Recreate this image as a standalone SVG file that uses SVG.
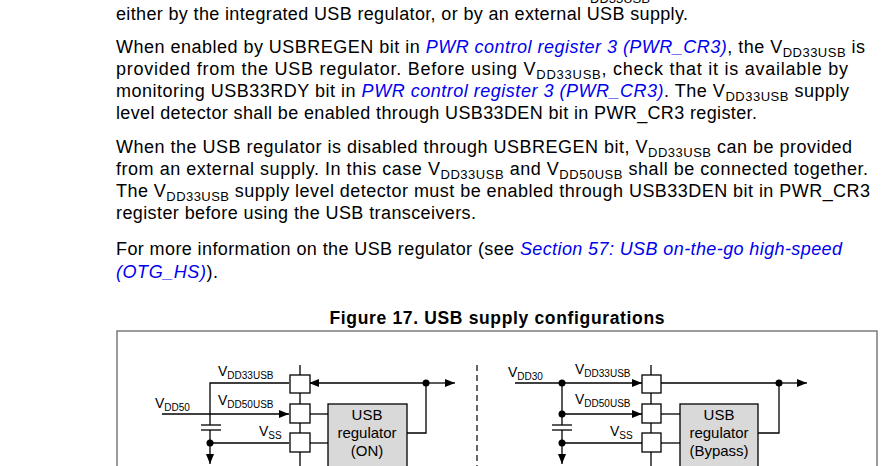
<svg xmlns="http://www.w3.org/2000/svg" width="888" height="466" viewBox="0 0 888 466">
<style>
text{font-family:"Liberation Sans",Arial,sans-serif;fill:#000}
.p{font-size:18px}
.l{fill:#0000ee;font-style:italic}
.s{font-size:13px}
.d{font-size:14px}
.w{stroke:#000;stroke-width:1.3;fill:none}
.b{fill:#fff;stroke:#000;stroke-width:1.3}
.r{fill:#d9d9d9;stroke:#000;stroke-width:1.3}
.c{font-size:15px;text-anchor:middle}
</style>
<defs>
<marker id="a" markerWidth="10" markerHeight="8" refX="10" refY="4" orient="auto" markerUnits="userSpaceOnUse"><path d="M0,0L10,4L0,8z" fill="#000"/></marker>
</defs>
<rect width="888" height="466" fill="#fff"/>
<g id="body">
<text class="s" x="590" y="3">DD33USB</text>
<text class="p" x="116" y="20" textLength="572" lengthAdjust="spacing">either by the integrated USB regulator, or by an external USB supply.</text>
<text class="p" x="116" y="53" textLength="749" lengthAdjust="spacing">When enabled by USBREGEN bit in <tspan class="l">PWR control register 3 (PWR_CR3)</tspan>, the V<tspan class="s" dy="4">DD33USB</tspan><tspan dy="-4"> is</tspan></text>
<text class="p" x="116" y="75" textLength="732" lengthAdjust="spacing">provided from the USB regulator. Before using V<tspan class="s" dy="4">DD33USB</tspan><tspan dy="-4">, check that it is available by</tspan></text>
<text class="p" x="116" y="97" textLength="733" lengthAdjust="spacing">monitoring USB33RDY bit in <tspan class="l">PWR control register 3 (PWR_CR3)</tspan>. The V<tspan class="s" dy="4">DD33USB</tspan><tspan dy="-4"> supply</tspan></text>
<text class="p" x="116" y="119" textLength="641" lengthAdjust="spacing">level detector shall be enabled through USB33DEN bit in PWR_CR3 register.</text>
<text class="p" x="116" y="153" textLength="736" lengthAdjust="spacing">When the USB regulator is disabled through USBREGEN bit, V<tspan class="s" dy="4">DD33USB</tspan><tspan dy="-4"> can be provided</tspan></text>
<text class="p" x="116" y="175" textLength="752" lengthAdjust="spacing">from an external supply. In this case V<tspan class="s" dy="4">DD33USB</tspan><tspan dy="-4"> and V</tspan><tspan class="s" dy="4">DD50USB</tspan><tspan dy="-4"> shall be connected together.</tspan></text>
<text class="p" x="116" y="197" textLength="754" lengthAdjust="spacing">The V<tspan class="s" dy="4">DD33USB</tspan><tspan dy="-4"> supply level detector must be enabled through USB33DEN bit in PWR_CR3</tspan></text>
<text class="p" x="116" y="219" textLength="360" lengthAdjust="spacing">register before using the USB transceivers.</text>
<text class="p" x="116" y="255" textLength="726" lengthAdjust="spacing">For more information on the USB regulator (see <tspan class="l">Section 57: USB on-the-go high-speed</tspan></text>
<text class="p" x="116" y="278" textLength="102" lengthAdjust="spacing"><tspan class="l">(OTG_HS)</tspan>).</text>
<text x="497" y="324" text-anchor="middle" font-weight="bold" font-size="17.5" textLength="335" lengthAdjust="spacing">Figure 17. USB supply configurations</text>
</g>
<rect x="117" y="331" width="760" height="140" fill="none" stroke="#666" stroke-width="1.3"/>
<g id="connectors">
<line class="w" x1="300" y1="365" x2="300" y2="466"/>
<line class="w" x1="651" y1="365" x2="651" y2="466"/>
<path class="w" d="M289,383H210V425M210,430V443M210,443V464" marker-end="url(#a)"/>
<line class="w" x1="201" y1="425" x2="221" y2="425"/><line class="w" x1="201" y1="430" x2="221" y2="430"/>
<line class="w" x1="162" y1="414" x2="289" y2="414" marker-end="url(#a)"/>
<line class="w" x1="210" y1="443" x2="289" y2="443"/>
<line class="w" x1="309" y1="414" x2="328" y2="414"/><line class="w" x1="309" y1="443" x2="328" y2="443"/>
<path class="w" d="M407,433H426V383"/>
<line class="w" x1="426" y1="383" x2="309" y2="383" marker-end="url(#a)"/>
<line class="w" x1="426" y1="383" x2="455" y2="383" marker-end="url(#a)"/>
<circle cx="426" cy="383" r="3.5"/><circle cx="210" cy="443" r="3.5"/>
<line x1="477" y1="365" x2="477" y2="466" stroke="#000" stroke-width="1.2" stroke-dasharray="6,4"/>
<line class="w" x1="515" y1="383" x2="642" y2="383" marker-end="url(#a)"/>
<path class="w" d="M562,383V425M562,430V464" marker-end="url(#a)"/>
<line class="w" x1="552" y1="425" x2="572" y2="425"/><line class="w" x1="552" y1="430" x2="572" y2="430"/>
<line class="w" x1="562" y1="414" x2="642" y2="414" marker-end="url(#a)"/>
<line class="w" x1="562" y1="443" x2="642" y2="443"/>
<line class="w" x1="661" y1="414" x2="680" y2="414"/><line class="w" x1="661" y1="443" x2="680" y2="443"/>
<path class="w" d="M758,433H779V383H661"/>
<line class="w" x1="779" y1="383" x2="807" y2="383" marker-end="url(#a)"/>
<circle cx="779" cy="383" r="3.5"/><circle cx="562" cy="383" r="3.5"/><circle cx="562" cy="414" r="3.5"/><circle cx="562" cy="443" r="3.5"/>
</g>
<g id="left">
<rect class="b" x="290" y="375" width="20" height="18"/>
<rect class="b" x="290" y="404" width="20" height="19"/>
<rect class="b" x="290" y="433" width="20" height="19"/>
<rect class="r" x="328" y="404" width="79" height="66"/>
<text class="c" x="367" y="420">USB</text><text class="c" x="367" y="438">regulator</text><text class="c" x="367" y="456">(ON)</text>
<text class="d" x="218" y="376">V<tspan font-size="10" dy="3">DD33USB</tspan></text>
<text class="d" x="218" y="405">V<tspan font-size="10" dy="3">DD50USB</tspan></text>
<text class="d" x="155" y="408">V<tspan font-size="10" dy="3">DD50</tspan></text>
<text class="d" x="259" y="436">V<tspan font-size="10" dy="3">SS</tspan></text>
</g>
<g id="right">
<rect class="b" x="642" y="375" width="19" height="18"/>
<rect class="b" x="642" y="404" width="19" height="19"/>
<rect class="b" x="642" y="433" width="19" height="19"/>
<rect class="r" x="680" y="404" width="78" height="66"/>
<text class="c" x="719" y="420">USB</text><text class="c" x="719" y="438">regulator</text><text class="c" x="719" y="456">(Bypass)</text>
<text class="d" x="575" y="374">V<tspan font-size="10" dy="3">DD33USB</tspan></text>
<text class="d" x="575" y="404">V<tspan font-size="10" dy="3">DD50USB</tspan></text>
<text class="d" x="508" y="377">V<tspan font-size="10" dy="3">DD30</tspan></text>
<text class="d" x="610" y="436">V<tspan font-size="10" dy="3">SS</tspan></text>
</g>
</svg>
